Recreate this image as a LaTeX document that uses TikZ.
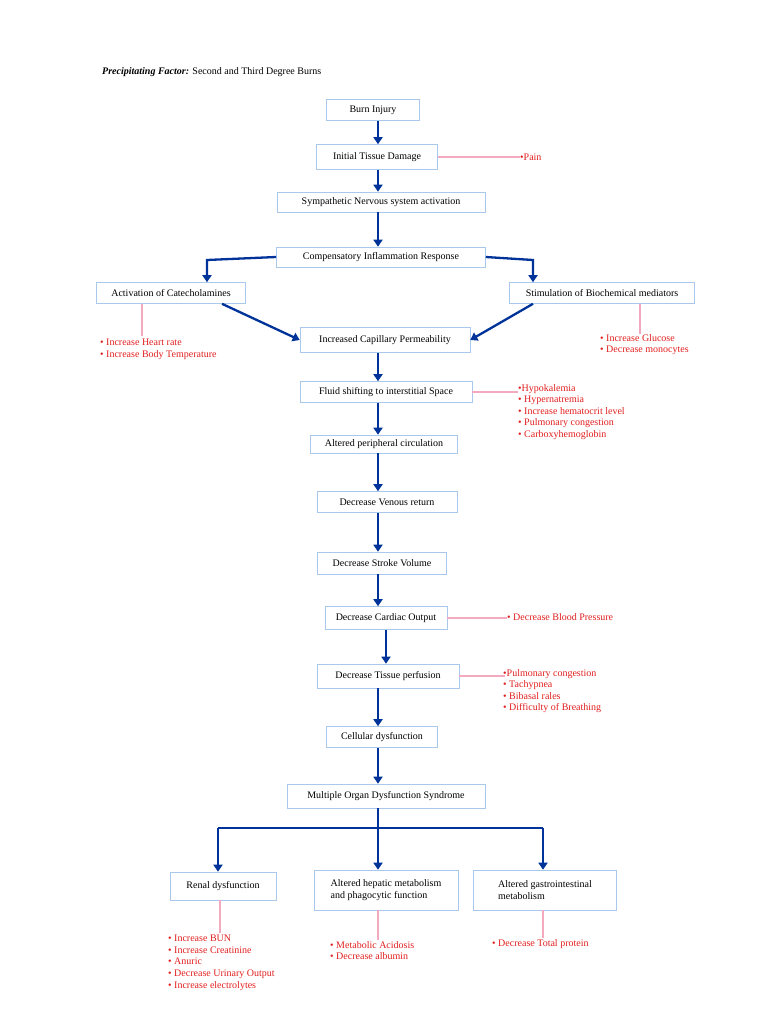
\documentclass[tikz,border=0pt]{standalone}
\usepackage{fontspec}
\setmainfont{Liberation Serif}
\usetikzlibrary{arrows.meta,positioning}
\definecolor{flowblue}{RGB}{0,51,153}
\definecolor{boxblue}{RGB}{170,200,235}
\definecolor{linkpink}{RGB}{244,170,190}
\definecolor{signred}{RGB}{225,30,30}
\tikzset{
  stage/.style={draw=boxblue, line width=0.6pt, inner sep=2pt, font=\fontsize{10}{12}\selectfont, align=center},
  flow/.style={draw=flowblue, line width=2.3pt, -{Triangle[length=7pt,width=9pt]}},
  link/.style={draw=linkpink, line width=2.8pt},
  signs/.style={text=signred, font=\fontsize{10}{11.6}\selectfont, align=left, inner sep=0pt, anchor=north west}
}
\begin{document}
\begin{tikzpicture}[x=1pt, y=-1pt]
\useasboundingbox (0,0) rectangle (768,1024);

% Title
\node[anchor=west, inner sep=0pt, font=\fontsize{10}{12}\selectfont] (title) at (102,72)
  {\textbf{\textit{Precipitating Factor:}} Second and Third Degree Burns};

% Stages
\node[stage, minimum width=93pt, minimum height=21pt] (burn) at (373,110) {Burn Injury};
\node[stage, minimum width=121pt, minimum height=25pt] (tissue) at (377,157) {Initial Tissue Damage};
\node[stage, minimum width=208pt, minimum height=20pt] (sympa) at (381,202) {Sympathetic Nervous system activation};
\node[stage, minimum width=209pt, minimum height=20pt] (comp) at (381,257) {Compensatory Inflammation Response};
\node[stage, minimum width=149pt, minimum height=21pt] (catech) at (171,293) {Activation of Catecholamines};
\node[stage, minimum width=185pt, minimum height=21pt] (biochem) at (602,293) {Stimulation of Biochemical mediators};
\node[stage, minimum width=170pt, minimum height=25pt] (capil) at (385,340) {Increased Capillary Permeability};
\node[stage, minimum width=172pt, minimum height=21pt] (fluid) at (386,392) {Fluid shifting to interstitial Space};
\node[stage, minimum width=147pt, minimum height=18pt] (periph) at (384,444) {Altered peripheral circulation};
\node[stage, minimum width=140pt, minimum height=21pt] (venous) at (387,502) {Decrease Venous return};
\node[stage, minimum width=129pt, minimum height=22pt] (stroke) at (382,563) {Decrease Stroke Volume};
\node[stage, minimum width=122pt, minimum height=23pt] (cardiac) at (386,618) {Decrease Cardiac Output};
\node[stage, minimum width=142pt, minimum height=24pt] (perfus) at (388,676) {Decrease Tissue perfusion};
\node[stage, minimum width=111pt, minimum height=21pt] (cell) at (382,737) {Cellular dysfunction};
\node[stage, minimum width=198pt, minimum height=24pt] (mods) at (386,796) {Multiple Organ Dysfunction Syndrome};
\node[stage, minimum width=106pt, minimum height=28pt] (renal) at (223,886) {Renal dysfunction};
\node[stage, minimum width=144pt, minimum height=40pt, align=left] (hepat) at (386,890) {Altered hepatic metabolism\\and phagocytic function};
\node[stage, minimum width=143pt, minimum height=40pt, align=left] (gastro) at (545,890) {Altered gastrointestinal\\metabolism};

% Signs
\node[signs, anchor=west] (pain) at (520,157) {•Pain};
\node[signs] (catechsign) at (100,339) {• Increase Heart rate\\• Increase Body Temperature};
\node[signs] (biochemsign) at (600,334) {• Increase Glucose\\• Decrease monocytes};
\node[signs] (fluidsign) at (518,384) {•Hypokalemia\\• Hypernatremia\\• Increase hematocrit level\\• Pulmonary congestion\\• Carboxyhemoglobin};
\node[signs, anchor=west] (cardiacsign) at (507,617) {• Decrease Blood Pressure};
\node[signs] (perfussign) at (503,669) {•Pulmonary congestion\\• Tachypnea\\• Bibasal rales\\• Difficulty of Breathing};
\node[signs] (renalsign) at (168,935) {• Increase BUN\\• Increase Creatinine\\• Anuric\\• Decrease Urinary Output\\• Increase electrolytes};
\node[signs] (hepatsign) at (330,941) {• Metabolic Acidosis\\• Decrease albumin};
\node[signs] (gastrosign) at (492,939) {• Decrease Total protein};

% Pink links
\draw[link] (tissue.east) -- (tissue.east -| pain.west);
\draw[link] (fluid.east) -- (fluid.east -| fluidsign.west);
\draw[link] (cardiac.east) -- (cardiac.east -| cardiacsign.west);
\draw[link] (perfus.east) -- ([xshift=2pt]perfus.east -| perfussign.west);
\draw[link] (catech.south -| 142,0) -- (142,336);
\draw[link] (biochem.south -| 640,0) -- (640,334);
\draw[link] (renal.south -| 220,0) -- (220,933);
\draw[link] (hepat.south -| 378,0) -- (378,940);
\draw[link] (gastro.south -| 543,0) -- (543,938);

% Flow arrows
\draw[flow] (burn.south -| 378,0) -- (tissue.north -| 378,0);
\draw[flow] (tissue.south -| 378,0) -- (sympa.north -| 378,0);
\draw[flow] (sympa.south -| 378,0) -- (comp.north -| 378,0);
\draw[flow] (comp.west) -- (207,260) -- (catech.north -| 207,0);
\draw[flow] (comp.east) -- (533,260) -- (biochem.north -| 533,0);
\draw[flow] (catech.south -| 222,0) -- (capil.west);
\draw[flow] (biochem.south -| 533,0) -- (capil.east);
\draw[flow] (capil.south -| 378,0) -- (fluid.north -| 378,0);
\draw[flow] (fluid.south -| 378,0) -- (periph.north -| 378,0);
\draw[flow] (periph.south -| 378,0) -- (venous.north -| 378,0);
\draw[flow] (venous.south -| 378,0) -- (stroke.north -| 378,0);
\draw[flow] (stroke.south -| 378,0) -- (cardiac.north -| 378,0);
\draw[flow] (cardiac.south -| 386,0) -- (perfus.north -| 386,0);
\draw[flow] (perfus.south -| 378,0) -- (cell.north -| 378,0);
\draw[flow] (cell.south -| 378,0) -- (mods.north -| 378,0);
\coordinate (split) at (378,828);
\draw[draw=flowblue, line width=2.3pt] (mods.south -| split) -- (split);
\draw[draw=flowblue, line width=2.3pt] (218,828) -- (543,828);
\draw[flow] (218,828) -- (renal.north -| 218,0);
\draw[flow] (split) -- (hepat.north -| split);
\draw[flow] (543,828) -- (gastro.north -| 543,0);
\end{tikzpicture}
\end{document}
